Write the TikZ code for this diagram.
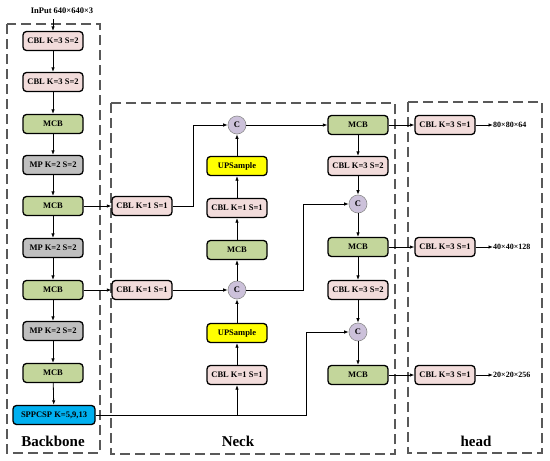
\documentclass[tikz,border=0pt]{standalone}
\usepackage{fontspec}
\setmainfont{Liberation Serif}
\usetikzlibrary{arrows.meta}
\definecolor{pinkc}{HTML}{F2DCDB}
\definecolor{greenc}{HTML}{C3D69B}
\definecolor{grayc}{HTML}{BFBFBF}
\definecolor{bluec}{HTML}{00B0F0}
\definecolor{lavc}{HTML}{CCC1DA}
\definecolor{yelc}{HTML}{FFFF00}
\begin{document}
\begin{tikzpicture}[x=1pt,y=-1pt,
 blk/.style={draw=black, line width=1.3pt, rounded corners=3.5pt, minimum width=60pt, minimum height=19pt, inner sep=0pt, font=\fontsize{8.5}{9}\selectfont\bfseries},
 cbl/.style={blk, fill=pinkc},
 mcb/.style={blk, fill=greenc},
 mpb/.style={blk, fill=grayc},
 ups/.style={blk, fill=yelc},
 spp/.style={blk, fill=bluec, minimum width=82pt},
 cc/.style={circle, draw=black!45, line width=0.6pt, fill=lavc, minimum size=18pt, inner sep=0pt, font=\fontsize{8.5}{9}\selectfont\bfseries},
 arr/.style={-{Latex[length=4.5pt,width=3.5pt]}, line width=0.8pt},
 ln/.style={line width=0.8pt},
 grp/.style={dash pattern=on 10pt off 5pt, line width=1.3pt, draw=black!65},
 lab/.style={font=\fontsize{15}{16}\selectfont\bfseries},
 sm/.style={font=\fontsize{8}{9}\selectfont\bfseries}
]
\useasboundingbox (0,0) rectangle (550,461);
\fill[white] (0,0) rectangle (550,461);
% groups
\draw[grp] (7,24) rectangle (100,453);
\draw[grp] (111,103) rectangle (395,454);
\draw[grp] (408,102) rectangle (542,453);
\node[lab] (lb) at (53,441) {Backbone};
\node[lab] (ln) at (238,441) {Neck};
\node[lab] (lh) at (476,441) {head};
% backbone
\node[sm, font=\fontsize{8.5}{9}\selectfont\bfseries] (inp) at (62,11) {InPut 640×640×3};
\coordinate (inpA) at (53,19);
\node[cbl] (b1) at (53,41) {CBL K=3 S=2};
\node[cbl] (b2) at (53,82) {CBL K=3 S=2};
\node[mcb] (b3) at (53,124) {MCB};
\node[mpb] (b4) at (53,165) {MP K=2 S=2};
\node[mcb] (b5) at (53,206) {MCB};
\node[mpb] (b6) at (53,248) {MP K=2 S=2};
\node[mcb] (b7) at (53,290) {MCB};
\node[mpb] (b8) at (53,331) {MP K=2 S=2};
\node[mcb] (b9) at (53,373) {MCB};
\node[spp] (b10) at (54,415) {SPPCSP K=5,9,13};
\draw[arr] (inpA) -- (b1);
\draw[arr] (b1) -- (b2);
\draw[arr] (b2) -- (b3);
\draw[arr] (b3) -- (b4);
\draw[arr] (b4) -- (b5);
\draw[arr] (b5) -- (b6);
\draw[arr] (b6) -- (b7);
\draw[arr] (b7) -- (b8);
\draw[arr] (b8) -- (b9);
\draw[arr] (b9) -- (b10);
% neck
\node[cbl] (n1) at (142,206) {CBL K=1 S=1};
\node[cbl] (n2) at (142,290) {CBL K=1 S=1};
\node[cc] (c1) at (237,125) {C};
\node[ups] (u1) at (237,166) {UPSample};
\node[cbl] (n3) at (237,208) {CBL K=1 S=1};
\node[mcb] (m1) at (237,250) {MCB};
\node[cc] (c2) at (237,290) {C};
\node[ups] (u2) at (237,333) {UPSample};
\node[cbl] (n4) at (237,375) {CBL K=1 S=1};
\node[mcb] (r1) at (358,125) {MCB};
\node[cbl] (r2) at (358,166) {CBL K=3 S=2};
\node[cc] (c3) at (358,204) {C};
\node[mcb] (r3) at (358,247) {MCB};
\node[cbl] (r4) at (358,290) {CBL K=3 S=2};
\node[cc] (c4) at (358,332) {C};
\node[mcb] (r5) at (358,375) {MCB};
\coordinate (j0) at (193,0);
\coordinate (j1) at (303,0);
\coordinate (j2) at (306,0);
\draw[arr] (b5) -- (n1);
\draw[arr] (b7) -- (n2);
\draw[arr] (n1.east) -- (n1.east -| j0) |- (c1.west);
\draw[arr] (n2) -- (c2);
\draw[arr] (c2) -- (m1);
\draw[arr] (m1) -- (n3);
\draw[arr] (n3) -- (u1);
\draw[arr] (u1) -- (c1);
\draw[arr] (n4) -- (u2);
\draw[arr] (u2) -- (c2);
\draw[arr] (n4.south |- b10.east) -- (n4.south);
\draw[ln] (b10.east) -- (n4.south |- b10.east);
\draw[arr] (n4.south |- b10.east) -- (b10.east -| j2) |- (c4.west);
\draw[arr] (c2.east) -- (c2.east -| j1) |- (c3.west);
\draw[arr] (c1) -- (r1);
\draw[arr] (r1) -- (r2);
\draw[arr] (r2) -- (c3);
\draw[arr] (c3) -- (r3);
\draw[arr] (r3) -- (r4);
\draw[arr] (r4) -- (c4);
\draw[arr] (c4) -- (r5);
% head
\node[cbl] (h1) at (445,125) {CBL K=3 S=1};
\node[cbl] (h2) at (445,247) {CBL K=3 S=1};
\node[cbl] (h3) at (445,375) {CBL K=3 S=1};
\node[sm, anchor=west, inner sep=0pt] (o1) at (493,125) {80×80×64};
\node[sm, anchor=west, inner sep=0pt] (o2) at (493,247) {40×40×128};
\node[sm, anchor=west, inner sep=0pt] (o3) at (493,375) {20×20×256};
\draw[arr] (r1) -- (h1);
\draw[arr] (r3) -- (h2);
\draw[arr] (r5) -- (h3);
\draw[arr] (h1) -- (o1);
\draw[arr] (h2) -- (o2);
\draw[arr] (h3) -- (o3);
\end{tikzpicture}
\end{document}
